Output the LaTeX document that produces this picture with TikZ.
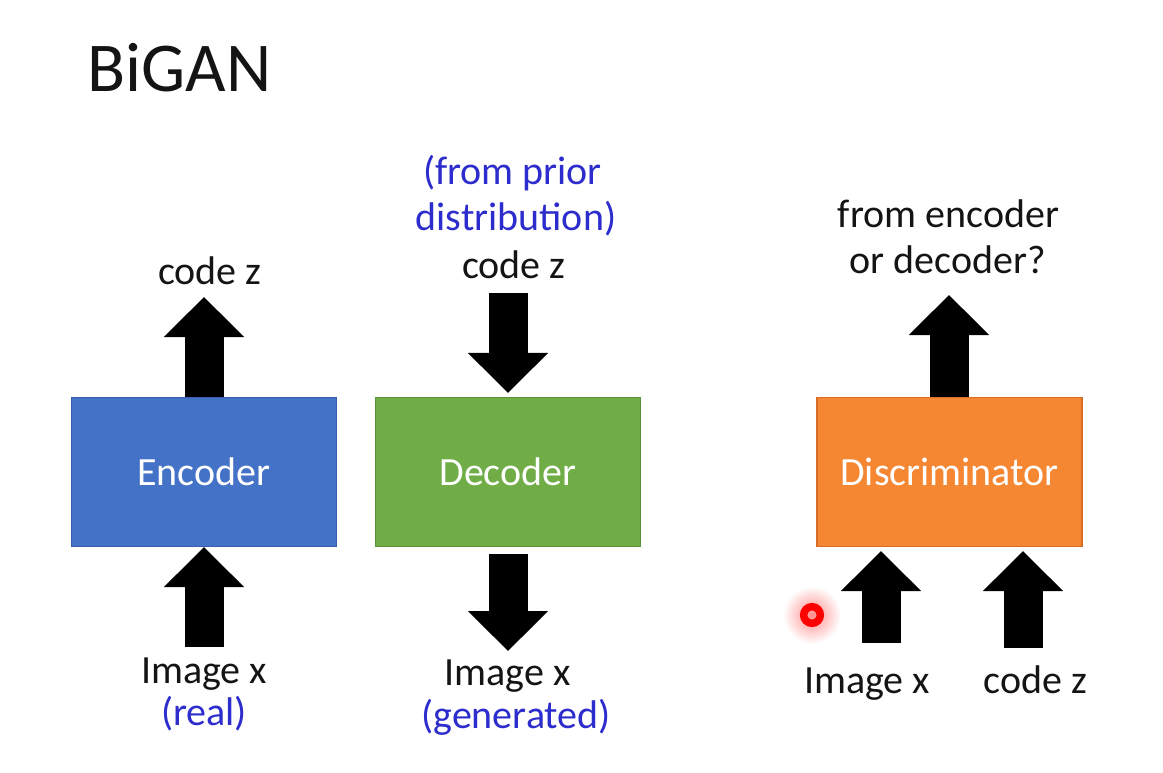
\documentclass[tikz,border=0pt]{standalone}
\usepackage{fontspec}
\setmainfont{Carlito}
\usetikzlibrary{arrows.meta}
\definecolor{encfill}{RGB}{68,114,198}
\definecolor{encdraw}{RGB}{55,95,170}
\definecolor{decfill}{RGB}{112,173,71}
\definecolor{decdraw}{RGB}{90,145,55}
\definecolor{disfill}{RGB}{246,135,50}
\definecolor{disdraw}{RGB}{215,110,40}
\definecolor{lblblue}{RGB}{45,45,205}
\definecolor{txt}{RGB}{20,20,20}
\tikzset{
  box/.style={rectangle, minimum width=265pt, minimum height=149pt, line width=1.2pt, inner sep=0pt, text=white, font=\fontsize{40}{46}\selectfont},
  lbl/.style={anchor=base, inner sep=0pt, text=txt, font=\fontsize{40}{46}\selectfont},
  blbl/.style={lbl, text=lblblue},
  blockarrow/.style={draw=black, line width=39pt, line cap=butt, -{Triangle[width=78pt,length=40pt]}},
}
\begin{document}
\begin{tikzpicture}[x=1pt,y=-1pt]
\useasboundingbox[fill=white] (0,0) rectangle (1163,773);
% title
\node[anchor=base west, inner sep=0pt, font=\fontsize{70}{80}\selectfont, text=txt] (title) at (87,92) {BiGAN};
% boxes
\node[box, fill=encfill, draw=encdraw] (enc) at (204,472) {Encoder};
\node[box, fill=decfill, draw=decdraw] (dec) at (508,472) {Decoder};
\node[box, fill=disfill, draw=disdraw] (dis) at (949.5,472) {Discriminator};
% labels
\node[lbl] (encz) at (210,284) {code z};
\node[lbl] (encx) at (204,683) {Image x};
\node[blbl] (encreal) at (204,725) {(real)};
\node[blbl] (decprior1) at (512.5,185) {(from prior};
\node[blbl] (decprior2) at (516,230) {distribution)};
\node[lbl] (decz) at (514,278) {code z};
\node[lbl] (decx) at (507.5,685) {Image x};
\node[blbl] (decgen) at (516,728) {(generated)};
\node[lbl] (disq1) at (948.5,228) {from encoder};
\node[lbl] (disq2) at (947.5,273) {or decoder?};
\node[lbl] (disx) at (867,693) {Image x};
\node[lbl] (disz) at (1035.5,693) {code z};
% arrow end points
\coordinate (encOutTip) at (204,297);
\coordinate (encInTail) at (204,647);
\coordinate (decInTail) at (508,293);
\coordinate (decOutTip) at (508,651);
\coordinate (disOutTip) at (949,295);
\coordinate (disInXTail) at (881,643);
\coordinate (disInZTail) at (1023,648);
% block arrows (yshift is in page direction: positive = up)
\draw[blockarrow] (enc.north) -- (encOutTip);
\draw[blockarrow] (encInTail) -- (enc.south);
\draw[blockarrow] (decInTail) -- ([yshift=4pt]dec.north);
\draw[blockarrow] ([yshift=-7pt]dec.south) -- (decOutTip);
\draw[blockarrow] (dis.north -| disOutTip) -- (disOutTip);
\draw[blockarrow] (disInXTail) -- ([yshift=-4pt]dis.south -| disInXTail);
\draw[blockarrow] (disInZTail) -- ([yshift=-4pt]dis.south -| disInZTail);
% laser pointer dot
\shade[inner color=red!45, outer color=white] (812,615) circle (29);
\draw[red, line width=7.5pt] (812,615) circle (8.3);
\end{tikzpicture}
\end{document}
